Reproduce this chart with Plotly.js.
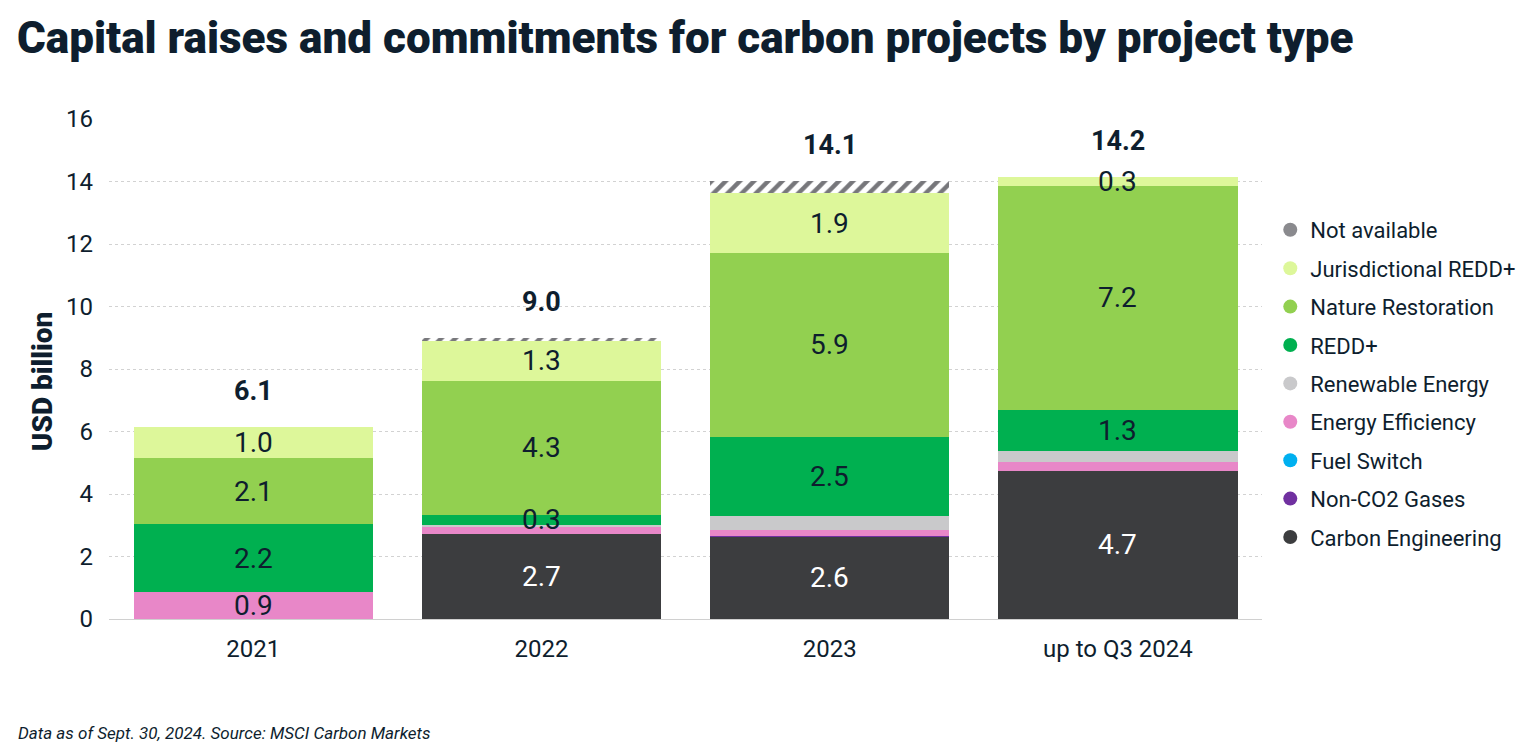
<!DOCTYPE html>
<html>
<head>
<meta charset="utf-8">
<script src="https://cdn.plot.ly/plotly-3.0.1.min.js"></script>
<style>
  html, body { margin: 0; padding: 0; background: #ffffff; }
  #chart { width: 1536px; height: 749px; }
</style>
</head>
<body>
<div id="chart"></div>
<script>
// ---- Data (USD billion) ----
const categories = ["2021", "2022", "2023", "up to Q3 2024"];

const carbonEngineering   = [0,    2.72, 2.63, 4.74];
const nonCO2Gases         = [0,    0,    0.02, 0];
const fuelSwitch          = [0,    0,    0,    0];
const energyEfficiency    = [0.86, 0.22, 0.2,  0.3];
const renewableEnergy     = [0,    0.08, 0.46, 0.33];
const redd                = [2.18, 0.3,  2.52, 1.32];
const natureRestoration   = [2.11, 4.31, 5.88, 7.17];
const jurisdictionalRedd  = [0.99, 1.28, 1.92, 0.3];
const notAvailable        = [0,    0.09, 0.39, 0];

const carbonEngineeringLabels  = ["", "2.7", "2.6", "4.7"];
const energyEfficiencyLabels   = ["0.9", "", "", ""];
const reddLabels               = ["2.2", "0.3", "2.5", "1.3"];
const natureRestorationLabels  = ["2.1", "4.3", "5.9", "7.2"];
const jurisdictionalLabels     = ["1.0", "1.3", "1.9", "0.3"];

const totalLabels = ["6.1", "9.0", "14.1", "14.2"];

const yTicks = [0, 2, 4, 6, 8, 10, 12, 14, 16];

// ---- Styling ----
const TXT = "#0e1e2e";
const FONT = "Roboto, 'Noto Sans', Arial, sans-serif";

const series = [
  {name: "Carbon Engineering",    y: carbonEngineering,  color: "#3c3d3f", labels: carbonEngineeringLabels, textColor: "#ffffff"},
  {name: "Non-CO2 Gases",         y: nonCO2Gases,        color: "#7030a0", labels: null},
  {name: "Fuel Switch",           y: fuelSwitch,         color: "#00b0f0", labels: null},
  {name: "Energy Efficiency",     y: energyEfficiency,   color: "#e887c8", labels: energyEfficiencyLabels, textColor: TXT},
  {name: "Renewable Energy",      y: renewableEnergy,    color: "#c9c9cb", labels: null},
  {name: "REDD+",                 y: redd,               color: "#00b050", labels: reddLabels, textColor: TXT},
  {name: "Nature Restoration",    y: natureRestoration,  color: "#92d050", labels: natureRestorationLabels, textColor: TXT},
  {name: "Jurisdictional REDD+",  y: jurisdictionalRedd, color: "#ddf79a", labels: jurisdictionalLabels, textColor: TXT},
];

const traces = [];
series.forEach(s => {
  traces.push({
    type: "bar",
    x: categories,
    y: s.y,
    name: s.name,
    marker: {color: s.color, line: {width: 0}},
    showlegend: false,
    textposition: "none",
  });
});

// Not available (hatched)
traces.push({
  type: "bar",
  x: categories,
  y: notAvailable,
  name: "Not available",
  marker: {
    color: "#ffffff",
    line: {width: 0},
    pattern: {shape: "/", fgcolor: "#77777b", bgcolor: "#ffffff", size: 10, solidity: 0.45}
  },
  showlegend: false,
  textposition: "none",
});

// Legend entries (circle markers), top to bottom, drawn on a hidden overlay axis
const legendItems = [
  {name: "Not available", color: "#8a8a8e"},
  {name: "Jurisdictional REDD+", color: "#ddf79a"},
  {name: "Nature Restoration", color: "#92d050"},
  {name: "REDD+", color: "#00b050"},
  {name: "Renewable Energy", color: "#c9c9cb"},
  {name: "Energy Efficiency", color: "#e887c8"},
  {name: "Fuel Switch", color: "#00b0f0"},
  {name: "Non-CO2 Gases", color: "#7030a0"},
  {name: "Carbon Engineering", color: "#3c3d3f"},
];
legendItems.forEach((it, i) => {
  traces.push({
    type: "scatter",
    mode: "markers",
    x: [0],
    y: [-100],
    xaxis: "x2",
    yaxis: "y2",
    name: it.name,
    legendgroup: "g" + i,
    marker: {symbol: "circle", size: 14, color: it.color},
    showlegend: true,
    hoverinfo: "skip",
  });
});

const annotations = [];

// Segment labels, placed at the middle of each stacked segment (drawn on top of all bars)
categories.forEach((c, i) => {
  let base = 0;
  series.forEach(s => {
    const v = s.y[i];
    if (s.labels && s.labels[i]) {
      annotations.push({
        x: i, y: base + v / 2, xref: "x", yref: "y",
        text: s.labels[i], showarrow: false,
        xanchor: "center", yanchor: "middle",
        font: {family: FONT, size: 28, color: s.textColor},
      });
    }
    base += v;
  });
});

// Totals (x given as the category index)
const totals = categories.map((c, i) =>
  series.reduce((acc, s) => acc + s.y[i], 0) + notAvailable[i]);
categories.forEach((c, i) => {
  annotations.push({
    x: i, y: totals[i], xref: "x", yref: "y",
    text: totalLabels[i],
    showarrow: false, yanchor: "bottom", yshift: 18,
    font: {family: FONT, size: 27, weight: 700, color: TXT},
  });
});

// Y axis title
annotations.push({
  xref: "paper", yref: "paper", x: -0.058, y: 0.474,
  xanchor: "center", yanchor: "middle", showarrow: false, textangle: -90,
  text: "USD billion",
  font: {family: FONT, size: 28, weight: 900, color: TXT},
});

// Footnote
annotations.push({
  xref: "paper", yref: "paper", x: -0.0805, y: -0.228,
  xanchor: "left", yanchor: "middle", showarrow: false,
  text: "<i>Data as of Sept. 30, 2024. Source: MSCI Carbon Markets</i>",
  font: {family: FONT, size: 17, color: TXT},
});

const layout = {
  width: 1536, height: 749,
  paper_bgcolor: "#ffffff", plot_bgcolor: "#ffffff",
  margin: {l: 109, r: 274, t: 119, b: 130},
  barmode: "stack",
  bargap: 0.17,
  font: {family: FONT, color: TXT},
  title: {
    text: "Capital raises and commitments for carbon projects by project type",
    x: 0.011, xanchor: "left", xref: "container",
    y: 0.95, yanchor: "middle", yref: "container",
    font: {family: FONT, size: 44, weight: 900, color: TXT},
  },
  xaxis: {
    type: "category",
    range: [-0.5, 3.5],
    tickfont: {family: FONT, size: 24, color: TXT},
    showgrid: false, zeroline: false,
    showline: true, linecolor: "#d0d0d0", linewidth: 1,
    ticks: "", ticklabelstandoff: 8,
    fixedrange: true,
  },
  yaxis: {
    range: [0, 16],
    tickvals: yTicks,
    ticktext: yTicks.map(String),
    tickfont: {family: FONT, size: 24, color: TXT},
    showgrid: true, gridcolor: "#d2d2d2", griddash: "dot", gridwidth: 1,
    zeroline: false, showline: false, ticks: "",
    ticklabelstandoff: 15,
    fixedrange: true,
  },
  xaxis2: {overlaying: "x", visible: false, range: [-1, 1], fixedrange: true},
  yaxis2: {overlaying: "y", visible: false, range: [0, 1], fixedrange: true},
  legend: {
    xref: "container", yref: "container",
    x: 0.827, xanchor: "left", y: 0.488, yanchor: "middle",
    font: {family: FONT, size: 22, color: TXT},
    traceorder: "grouped", tracegroupgap: 6.8,
    itemsizing: "trace",
    bgcolor: "rgba(0,0,0,0)",
  },
  annotations: annotations,
  showlegend: true,
};

Plotly.newPlot("chart", traces, layout, {displayModeBar: false, staticPlot: true});
</script>
</body>
</html>
